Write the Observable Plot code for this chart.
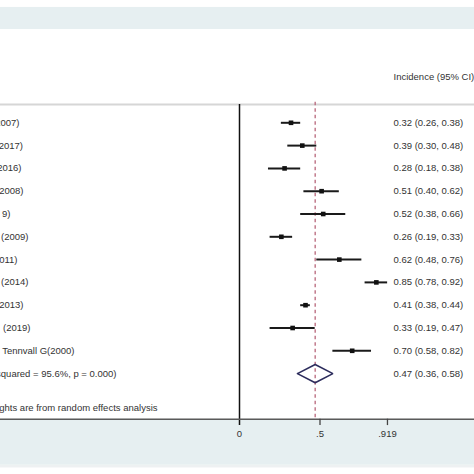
<!DOCTYPE html>
<html>
<head>
<meta charset="utf-8">
<script src="https://cdn.jsdelivr.net/npm/d3@7"></script>
<script src="https://cdn.jsdelivr.net/npm/@observablehq/plot@0.6"></script>
<style>
  html, body { margin: 0; padding: 0; background: #fff; }
  #chart { width: 474px; height: 474px; overflow: hidden; }
  #chart svg { display: block; }
</style>
</head>
<body>
<div id="chart"></div>
<script>
// Study labels (left column; long names run off the left edge)
const studyLabels = [
  "2007)", "(2017)", "(2016)", "(2008)", "9)", "(2009)",
  "2011)", "(2014)", "(2013)", "(2019)", "Tennvall G(2000)"
];
// Pooled incidence and 95% CI per study
const estimates = [0.32, 0.39, 0.28, 0.51, 0.52, 0.26, 0.62, 0.85, 0.41, 0.33, 0.70];
const lowerCI   = [0.26, 0.30, 0.18, 0.40, 0.38, 0.19, 0.48, 0.78, 0.38, 0.19, 0.58];
const upperCI   = [0.38, 0.48, 0.38, 0.62, 0.66, 0.33, 0.76, 0.92, 0.44, 0.47, 0.82];

// Overall random-effects estimate
const overallLabel = "(I-squared = 95.6%, p = 0.000)";
const overallEst = 0.47;
const overallLo = 0.36;
const overallHi = 0.58;

const noteText = "NOTE: Weights are from random effects analysis";
const columnHeader = "Incidence (95% CI)";

// X axis ticks
const tickValues = [0, 0.5, 0.919];
const tickLabels = ["0", ".5", ".919"];

// Right end of each left-column label, in pixels from the left edge
const labelEnds = [19, 22.5, 21, 23, 10, 28, 17, 28, 23, 30, 74];
const overallLabelEnd = 116;
const noteEnd = 157;

const fmt = v => v.toFixed(2);
const rows = estimates.map((e, i) => ({
  row: i + 1,
  label: studyLabels[i],
  est: e, lo: lowerCI[i], hi: upperCI[i],
  text: `${fmt(e)} (${fmt(lowerCI[i])}, ${fmt(upperCI[i])})`,
  end: labelEnds[i]
}));
const overallRow = rows.length + 1;
const overall = {
  row: overallRow, label: overallLabel, est: overallEst, lo: overallLo, hi: overallHi,
  text: `${fmt(overallEst)} (${fmt(overallLo)}, ${fmt(overallHi)})`, end: overallLabelEnd
};

// Scale geometry
const X0 = 239, PX_PER_UNIT = 161;
const ROW1 = 122.3, ROW_STEP = 22.8;
const pxToX = px => (px - X0) / PX_PER_UNIT;
const textCol = pxToX(393);
const axisRow = overallRow + 2;
const diamondHalf = 0.4;

const diamond = [
  {x: overall.lo, y: overallRow},
  {x: overall.est, y: overallRow - diamondHalf},
  {x: overall.hi, y: overallRow},
  {x: overall.est, y: overallRow + diamondHalf},
  {x: overall.lo, y: overallRow}
];

const font = "'Liberation Sans', Arial, Helvetica, sans-serif";
const textColor = "#333";

const chart = Plot.plot({
  width: 474,
  height: 474,
  margin: 0,
  style: {background: "#fff", fontFamily: font, fontSize: "9.5px", color: textColor},
  x: {domain: [0, 1], range: [X0, X0 + PX_PER_UNIT]},
  y: {domain: [1, overallRow], range: [ROW1, ROW1 + (overallRow - 1) * ROW_STEP]},
  marks: [
    // shaded bands above the header and under the axis
    Plot.rect([{y1: -4.06, y2: -3.09}], {y1: "y1", y2: "y2", fill: "#e6eff1"}),
    Plot.rect([{y1: axisRow, y2: axisRow + 2.02}], {y1: "y1", y2: "y2", fill: "#e6eff1"}),
    Plot.rect([{y1: axisRow + 2.02, y2: axisRow + 2.14}], {y1: "y1", y2: "y2", fill: "#eef1f2"}),
    // top rule
    Plot.ruleY([0.2], {stroke: "#d6d6d6", strokeWidth: 2}),
    // pooled estimate reference line
    Plot.ruleX([overall], {x: "est", y1: 0.1, y2: axisRow, stroke: "#b8667a", strokeWidth: 1.3, strokeDasharray: "3.5,3"}),
    // null line
    Plot.ruleX([0], {y1: 0.2, y2: axisRow + 0.28, stroke: "#111", strokeWidth: 1.5}),
    // confidence intervals and point estimates
    Plot.ruleY(rows, {x1: "lo", x2: "hi", y: "row", stroke: "#1a1a1a", strokeWidth: 2}),
    Plot.dot(rows, {x: "est", y: "row", symbol: "square", r: 2.6, fill: "#111", stroke: "none"}),
    // pooled diamond
    Plot.line(diamond, {x: "x", y: "y", stroke: "#2c2c5c", strokeWidth: 1.6, strokeLinejoin: "miter"}),
    // x axis
    Plot.ruleY([axisRow], {stroke: "#5a5a5a", strokeWidth: 1.6}),
    Plot.ruleX(tickValues.slice(1), {y1: axisRow, y2: axisRow + 0.28, stroke: "#444", strokeWidth: 1.3}),
    Plot.text(tickValues, {x: d => d, y: axisRow + 0.63, text: (d, i) => tickLabels[i], fill: textColor, fontSize: 9.5}),
    // left labels
    Plot.text([...rows, overall], {x: d => pxToX(d.end), y: "row", text: "label", textAnchor: "end", fill: textColor, fontSize: 9.5}),
    Plot.text([noteText], {x: pxToX(noteEnd), y: overallRow + 1.5, text: d => d, textAnchor: "end", fill: textColor, fontSize: 9.5}),
    // right column
    Plot.text([columnHeader], {x: textCol, y: -1, text: d => d, textAnchor: "start", fill: textColor, fontSize: 9.5}),
    Plot.text([...rows, overall], {x: textCol, y: "row", text: "text", textAnchor: "start", fill: textColor, fontSize: 9.5})
  ]
});

document.getElementById("chart").appendChild(chart);
</script>
</body>
</html>
